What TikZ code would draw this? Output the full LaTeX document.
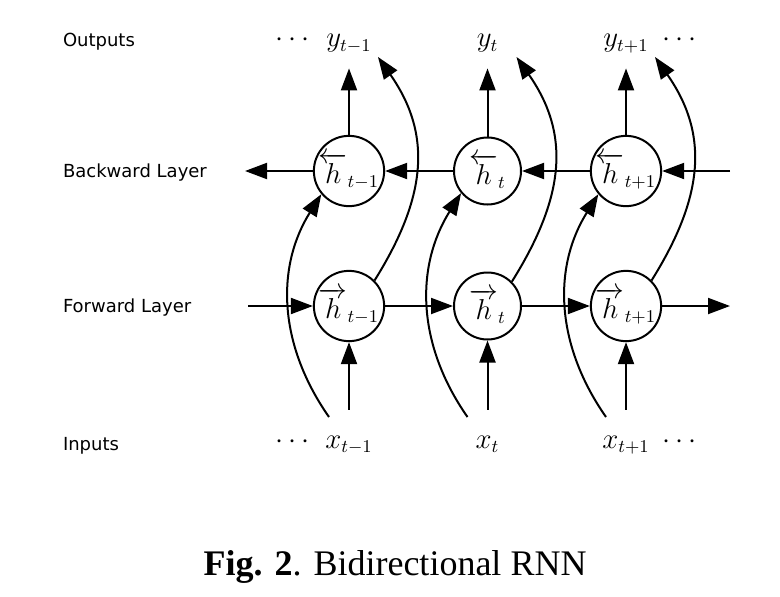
\documentclass[tikz,border=0pt]{standalone}
\usepackage{amsmath}
\usepackage{amssymb}
\usepackage{fontspec}
\setmainfont{Liberation Serif}
\setsansfont{DejaVu Sans}
\usetikzlibrary{positioning,arrows.meta}
\tikzset{
  EdgeStyle/.style = {-{Triangle[length=11pt,width=8pt]}, line width=1pt},
  Unit/.style = {circle, draw, line width=1pt, minimum size=33.5pt, inner sep=0pt,
    font=\fontsize{13.5}{16}\selectfont},
  Seq/.style = {inner sep=0pt, text height=19pt, text depth=10.5pt,
    font=\fontsize{13.5}{16}\selectfont},
  Layer/.style = {anchor=base west, inner sep=0pt, font=\sffamily\fontsize{9}{11}\selectfont},
}

\begin{document}
\begin{tikzpicture}[node distance=69.25pt, on grid]
  \useasboundingbox (0,0) rectangle (390pt,298pt);
  \node[Unit] (B1) at (174.5pt,212.5pt) {$\overleftarrow{h}_{t-1}$};
  \node[Unit, right=of B1] (B2) {$\overleftarrow{h}_{t}$};
  \node[Unit, right=of B2] (B3) {$\overleftarrow{h}_{t+1}$};
  \node[Unit, below=67.5pt of B1] (F1) {$\overrightarrow{h}_{t-1}$};
  \node[Unit, right=of F1] (F2) {$\overrightarrow{h}_{t}$};
  \node[Unit, right=of F2] (F3) {$\overrightarrow{h}_{t+1}$};
  \node[Seq, above=66.25pt of B1] (Y1) {$y_{t-1}$};
  \node[Seq, above=66.25pt of B2] (Y2) {$y_{t}$};
  \node[Seq, above=66.25pt of B3] (Y3) {$y_{t+1}$};
  \node[Seq, below=66.75pt of F1] (X1) {$x_{t-1}$};
  \node[Seq, below=66.75pt of F2] (X2) {$x_{t}$};
  \node[Seq, below=66.75pt of F3] (X3) {$x_{t+1}$};
  \node[Seq, left=27pt of Y1] (Y0) {$\cdots$};
  \node[Seq, right=28pt of Y3] (Y4) {$\cdots$};
  \node[Seq, left=27pt of X1] (X0) {$\cdots$};
  \node[Seq, right=28pt of X3] (X4) {$\cdots$};
  \coordinate[left=52pt of B1] (BL);
  \coordinate[right=52pt of B3] (BR);
  \coordinate[left=50.5pt of F1] (FL);
  \coordinate[right=52pt of F3] (FR);

  \node[Layer] (Lo) at (31.3pt,274.65pt) {Outputs};
  \node[Layer] (Lb) at (31.3pt,209.35pt) {Backward Layer};
  \node[Layer] (Lf) at (31.3pt,141.85pt) {Forward Layer};
  \node[Layer] (Li) at (31.3pt,73pt) {Inputs};
  \node[anchor=base, inner sep=0pt, font=\fontsize{18}{22}\selectfont] (Cap)
    at (197.5pt,10.5pt) {\textbf{Fig. 2}. Bidirectional RNN};

  % backward layer
  \draw[EdgeStyle] (BR) -- (B3);
  \draw[EdgeStyle] (B3) -- (B2);
  \draw[EdgeStyle] (B2) -- (B1);
  \draw[EdgeStyle] (B1) -- (BL);
  % forward layer
  \draw[EdgeStyle] (FL) -- (F1);
  \draw[EdgeStyle] (F1) -- (F2);
  \draw[EdgeStyle] (F2) -- (F3);
  \draw[EdgeStyle] (F3) -- (FR);
  % inputs and outputs
  \draw[EdgeStyle] (X1) -- (F1);
  \draw[EdgeStyle] (X2) -- (F2);
  \draw[EdgeStyle] (X3) -- (F3);
  \draw[EdgeStyle] (B1) -- (Y1);
  \draw[EdgeStyle] (B2) -- (Y2);
  \draw[EdgeStyle] (B3) -- (Y3);
  \tikzset{EdgeStyle/.append style = {out=125, in=238}}
  \draw[EdgeStyle] ([shift={(-10pt,11.25pt)}]X1.center) to (B1.220);
  \draw[EdgeStyle] ([shift={(-10pt,11.25pt)}]X2.center) to (B2.220);
  \draw[EdgeStyle] ([shift={(-10pt,11.25pt)}]X3.center) to (B3.220);
  \tikzset{EdgeStyle/.append style = {out=58, in=-55, looseness=1.1}}
  \draw[EdgeStyle] (F1.45) to ([shift={(14.5pt,-9.25pt)}]Y1.center);
  \draw[EdgeStyle] (F2.45) to ([shift={(14.5pt,-9.25pt)}]Y2.center);
  \draw[EdgeStyle] (F3.45) to ([shift={(14.5pt,-9.25pt)}]Y3.center);
\end{tikzpicture}
\end{document}
